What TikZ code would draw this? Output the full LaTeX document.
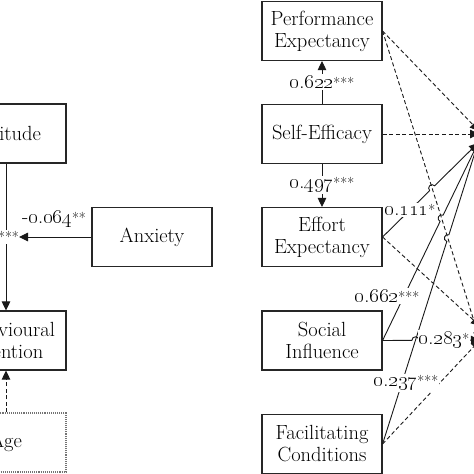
\RequirePackage{fix-cm}
\documentclass[tikz,border=0pt]{standalone}
\usetikzlibrary{arrows.meta,calc}
\newcommand{\osn}[1]{\oldstylenums{#1}}
\newcommand{\stars}[1]{{\fontsize{15}{15}\selectfont #1}}
\tikzset{
  box/.style={draw=black!85, line width=1.1pt, minimum width=120pt, minimum height=59pt,
    align=center, inner sep=0pt, font=\fontsize{20.5}{22}\selectfont},
  dbox/.style={box, draw=black!55, densely dotted},
  arr/.style={line width=0.9pt, draw=black!90, -{Triangle[length=9pt,width=8.5pt]}},
  dsh/.style={arr, dash pattern=on 4pt off 2.6pt},
  lab/.style={fill=white, inner xsep=1pt, inner ysep=1.5pt, font=\fontsize{20.5}{22}\selectfont},
}
\begin{document}
\begin{tikzpicture}
\useasboundingbox (0,0) rectangle (474pt,-474pt);
\clip (0,0) rectangle (474pt,-474pt);
\begin{scope}[x=1pt,y=1pt]
% left model
\node[box] (att) at (6,-133.5) {Attitude};
\node[box] (bil) at (6,-340.5) {Behavioural\\Intention};
\node[dbox] (age) at (6,-442.5) {Age};
\node[box] (anx) at (152,-237) {Anxiety};
\node[lab, anchor=east, inner xsep=0pt] (mod) at (19,-237) {\phantom{\osn{0}.\osn{000}}\stars{***}};
\draw[line width=0.9pt, draw=black!90] (att.south) -- (mod.north -| att.south);
\draw[arr] (mod.south -| att.south) -- (bil.north);
\draw[arr] (anx.west) -- (mod.east);
\node[font=\fontsize{20.5}{22}\selectfont] (lanx) at (54,-219) {-\osn{0}.\osn{064}\stars{**}};
\draw[dsh] (age.north) -- (bil.south);
% right model
\node[box] (pe) at (322,-31) {Performance\\Expectancy};
\node[box] (se) at (322,-134) {Self-Efficacy};
\node[box] (ee) at (322,-237) {Effort\\Expectancy};
\node[box] (si) at (322,-340.5) {Social\\Influence};
\node[box] (fc) at (322,-444) {Facilitating\\Conditions};
\coordinate (bip) at (479,-131);
\coordinate (bit) at (479,-134);
\coordinate (bis) at (478,-143);
\coordinate (ubt) at (480,-340);
\coordinate (ube) at (480,-326);
\draw[arr] (se.north) -- (pe.south);
\draw[arr] (se.south) -- (ee.north);
\node[lab] (l1) at (322,-82) {\osn{0}.\osn{622}\stars{***}};
\node[lab] (l2) at (322,-185) {\osn{0}.\osn{497}\stars{***}};
% dashed paths
\draw[dsh] (pe.east) -- (bip);
\draw[dsh] (pe.east) -- (ubt);
\draw[dsh] (se.east) -- (bit);
\draw[dsh] (ee.east) -- (ube);
\draw[dsh] (fc.east) -- (ubt);
% hop points
\coordinate (h1) at (intersection of ee.east--bis and pe.east--ubt);
\coordinate (h2) at (intersection of si.east--bis and pe.east--ubt);
\coordinate (h3) at (intersection of fc.east--bis and pe.east--ubt);
\coordinate (h4) at (intersection of si.east--ubt and fc.east--bis);
\tikzset{hop/.style={bend left=90, looseness=1.7}}
\draw[arr] (ee.east) -- ($(h1)!3.5pt!(ee.east)$) to[hop] ($(h1)!3.5pt!(bis)$) -- (bis);
\draw[arr] (si.east) -- ($(h2)!3.5pt!(si.east)$) to[hop] ($(h2)!3.5pt!(bis)$) -- (bis);
\draw[arr] (fc.east) -- ($(h3)!3.5pt!(fc.east)$) to[hop] ($(h3)!3.5pt!(bis)$) -- (bis);
\draw[arr] (si.east) -- ($(h4)!3.5pt!(si.east)$) to[hop] ($(h4)!3.5pt!(ubt)$) -- (ubt);
% labels
\node[lab] (l3) at (410,-210) {\osn{0}.\osn{111}\stars{*}};
\node[lab] (l4) at (387,-296) {\osn{0}.\osn{662}\stars{***}};
\node[lab, inner xsep=0.3pt] (l5) at (444,-340) {\osn{0}.\osn{283}\stars{*}};
\node[lab] (l6) at (406,-383) {\osn{0}.\osn{237}\stars{***}};
\end{scope}
\end{tikzpicture}
\end{document}
